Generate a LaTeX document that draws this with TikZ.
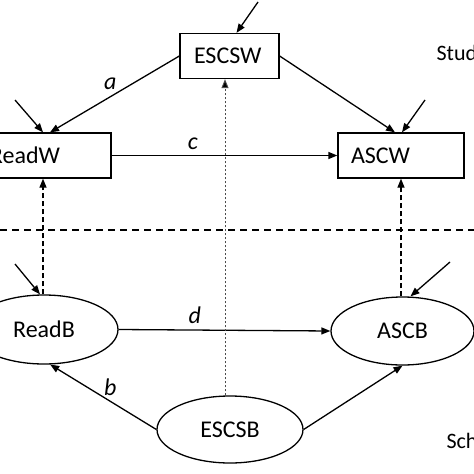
\documentclass[tikz,border=0pt]{standalone}
\usepackage{fontspec}
\setmainfont{Carlito}
\usetikzlibrary{arrows.meta,shapes.geometric,calc}
\begin{document}
\begin{tikzpicture}[x=1pt,y=-1pt,
  every node/.style={font=\fontsize{24}{28}\selectfont},
  box/.style={draw,line width=1.3pt,rectangle,minimum height=45pt,inner xsep=13pt,inner ysep=0pt,align=left},
  oval/.style={draw,line width=1.3pt,ellipse,inner sep=0pt},
  arr/.style={line width=1.3pt,-{Triangle[length=9pt,width=7pt]}},
  darr/.style={line width=1.3pt,dash pattern=on 5pt off 3pt,-{Triangle[length=9pt,width=7pt]}},
  farr/.style={line width=0.9pt,gray!60!black,dash pattern=on 2.5pt off 1.5pt,-{Triangle[length=9pt,width=7pt,fill=black]}},
  lab/.style={font=\fontsize{24}{28}\selectfont\itshape}]
\useasboundingbox (0,0) rectangle (474,474);
\clip (0,0) rectangle (474,474);
\fill[white] (0,0) rectangle (474,474);

% nodes
\node[box,text width=71pt,inner xsep=14pt] (escsw) at (229.5,56) {ESCSW};
\node[box,text width=108pt] (readw) at (44,155.5) {ReadW};
\node[box,text width=100pt] (ascw) at (401,155.5) {ASCW};
\node[oval,minimum width=148pt,minimum height=69pt] (readb) at (44,329.5) {ReadB};
\node[oval,minimum width=143pt,minimum height=68pt] (ascb) at (402.5,331) {ASCB};
\node[oval,minimum width=146pt,minimum height=67pt] (escsb) at (230,429.5) {ESCSB};

\node[anchor=base west,font=\fontsize{22}{26}\selectfont] (stud) at (433,60) {Stud};
\node[anchor=base west,font=\fontsize{22}{26}\selectfont] (sch) at (443,448) {Sch};

% level separator
\coordinate (sepl) at (0,230);
\coordinate (sepr) at (474,230);
\draw[line width=1.8pt,dash pattern=on 7pt off 5pt] (sepl) -- (sepr);

% external arrows
\coordinate (e1) at (258,2);
\coordinate (e2) at (15,100);
\coordinate (e3) at (425,100);
\coordinate (e4) at (15,264);
\coordinate (e5) at (450,262);
\draw[arr] (e1) -- ($(escsw.north)+(7,0)$);
\draw[arr] (e2) -- ($(readw.north)+(-1,0)$);
\draw[arr] (e3) -- ($(ascw.north)+(1,0)$);
\draw[arr] (e4) -- ($(readb.north)+(-4,0)$);
\draw[arr] (e5) -- ($(ascb.north)+(8,0)$);

% structural paths
\draw[arr] (escsw.west) -- node[lab,pos=0.47,above left=-2pt] {a} ($(readw.north)+(6,0)$);
\draw[arr] (escsw.east) -- ($(ascw.north)+(-6,0)$);
\draw[arr] (readw.east) -- node[lab,pos=0.36,above=2pt] {c} (ascw.west);
\draw[arr] (readb.east) -- node[lab,pos=0.36,above=2pt] {d} (ascb.west);
\draw[arr] (escsb.west) -- node[lab,pos=0.5,above right=-3pt] {b} (readb.-80);
\draw[arr] (escsb.east) -- (ascb.south);

% cross-level links
\draw[farr] (escsb.north -| 225,0) -- (escsw.south -| 225,0);
\draw[darr] (readb.north -| 43,0) -- (readw.south -| 43,0);
\draw[darr] (ascb.north -| 401,0) -- (ascw.south -| 401,0);
\end{tikzpicture}
\end{document}
